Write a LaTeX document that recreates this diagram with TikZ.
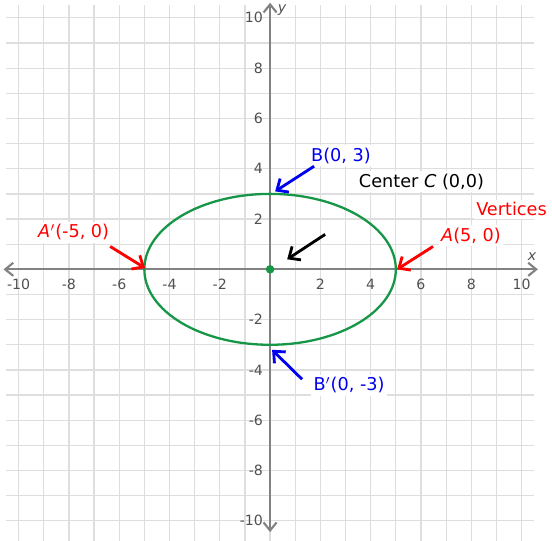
\documentclass[tikz,border=0pt]{standalone}
\usepackage{fontspec}
\setmainfont{DejaVu Sans}
\usepackage{xcolor}
\usetikzlibrary{arrows.meta,positioning,calc}
\definecolor{gridgray}{RGB}{222,222,222}
\definecolor{axisgray}{RGB}{130,130,130}
\definecolor{tickgray}{RGB}{80,80,80}
\definecolor{curvegreen}{RGB}{22,150,70}
\definecolor{ptred}{RGB}{255,0,0}
\definecolor{ptblue}{RGB}{0,0,240}

\begin{document}
\begin{tikzpicture}[x=0.5cm, y=0.5cm,
    gridline/.style={draw=gridgray, line width=0.7pt},
    axis/.style={draw=axisgray, line width=1.2pt, {Straight Barb[length=1.6mm,width=2.6mm,line width=1.2pt]}-{Straight Barb[length=1.6mm,width=2.6mm,line width=1.2pt]}},
    tick/.style={font=\footnotesize, text=tickgray, inner sep=1pt},
    lbl/.style={fill=white, inner sep=1.5pt, font=\normalsize},
    pointer/.style={line width=1.6pt, -{Straight Barb[length=1.8mm,width=3.2mm,line width=1.6pt]}}
]
    \useasboundingbox (-10.74,-10.78) rectangle (11.21,10.71);

    % Grid
    \foreach \i in {-10,...,10} {
        \draw [gridline] (\i,-10.8) -- (\i,10.5);
        \draw [gridline] (-10.5,\i) -- (10.5,\i);
    }

    % Axes
    \draw [axis] (-10.6,0) -- (10.65,0);
    \draw [axis] (0,-10.45) -- (0,10.6);
    \node [tick, font=\footnotesize\itshape] (xlbl) at (10.42,0.5) {x};
    \node [tick, font=\footnotesize\itshape] (ylbl) at (0.48,10.3) {y};

    % Tick labels
    \foreach \i in {-10,-8,-6,-4,-2,2,4,6,8,10} {
        \node [tick, anchor=north] at (\i,-0.3) {\i};
        \node [tick, anchor=east] at (-0.2,\i) {\i};
    }

    % Ellipse and center
    \draw [curvegreen, line width=1.3pt] (0,0) ellipse (5 and 3);
    \fill [curvegreen] (0,0) circle (0.17);

    \coordinate (C) at (0,0);
    \coordinate (A) at (5,0);
    \coordinate (A1) at (-5,0);
    \coordinate (B) at (0,3);
    \coordinate (B1) at (0,-3);

    % Labels
    \node [lbl, text=ptblue] (Blbl) at (2.82,4.51) {B(0, 3)};
    \node [lbl, text=black] (Clbl) at (6.02,3.48) {Center \textit{C} (0,0)};
    \node [lbl, text=ptred] (Vlbl) at (9.6,2.39) {Vertices};
    \node [lbl, text=ptred] (Albl) at (7.99,1.33) {\textit{A}(5, 0)};
    \node [lbl, text=ptred] (A1lbl) at (-7.81,1.47) {\textit{A}$'$(-5, 0)};
    \node [lbl, text=ptblue] (B1lbl) at (3.14,-4.61) {B$'$(0, -3)};

    % Pointers
    \coordinate (Btail) at (1.75,4.10);
    \coordinate (Ctail) at (2.19,1.39);
    \coordinate (Ctip) at (0.68,0.40);
    \coordinate (Atail) at (6.48,0.91);
    \coordinate (A1tail) at (-6.36,0.91);
    \coordinate (B1tail) at (1.27,-4.37);
    \draw [pointer, ptblue] (Btail) -- ($(B)+(0.2,0.1)$);
    \draw [pointer, black] (Ctail) -- (Ctip);
    \draw [pointer, ptred] (Atail) -- ($(A)+(0.05,0)$);
    \draw [pointer, ptred] (A1tail) -- ($(A1)+(0.03,0.05)$);
    \draw [pointer, ptblue] (B1tail) -- ($(B1)+(0.08,-0.2)$);
\end{tikzpicture}
\end{document}
